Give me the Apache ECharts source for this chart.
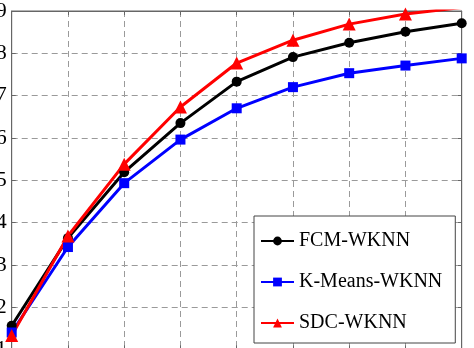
<!DOCTYPE html>
<html>
<head>
<meta charset="utf-8">
<script src="https://cdn.jsdelivr.net/npm/echarts@6/dist/echarts.min.js"></script>
<style>
  html, body { margin: 0; padding: 0; background: #fff; }
  #chart { width: 474px; height: 348px; }
</style>
</head>
<body>
<div id="chart"></div>
<script>
// Sample positions along the x axis
var categories = ['1', '2', '3', '4', '5', '6', '7', '8', '9'];
// Accuracy curves for each method
var fcmWknn = [1.56, 3.63, 5.19, 6.35, 7.33, 7.91, 8.25, 8.51, 8.71];
var kmeansWknn = [1.40, 3.42, 4.93, 5.96, 6.70, 7.20, 7.53, 7.71, 7.88];
var sdcWknn = [1.33, 3.68, 5.38, 6.73, 7.77, 8.31, 8.69, 8.93, 9.08];
var yTicks = { min: 1, max: 9, step: 1 };

var serif = "'Liberation Serif', 'Times New Roman', serif";
var frameColor = '#666';
var gridDash = { color: '#9a9a9a', width: 1, type: [6, 4] };

function lineSeries(name, data, color, symbol, size) {
  return {
    name: name,
    type: 'line',
    data: data,
    xAxisIndex: 0,
    yAxisIndex: 0,
    symbol: symbol,
    symbolSize: size,
    clip: true,
    lineStyle: { color: color, width: 3 },
    itemStyle: { color: color, borderWidth: 0 },
    emphasis: { disabled: true },
    z: 3
  };
}

var chart = echarts.init(document.getElementById('chart'), null, { renderer: 'canvas' });
chart.setOption({
  animation: false,
  backgroundColor: '#fff',
  grid: {
    left: 11.7, top: 11, width: 450, height: 338.4,
    outerBoundsMode: 'none', containLabel: false,
    show: true, borderColor: frameColor, borderWidth: 1, backgroundColor: 'transparent'
  },
  xAxis: [
    {
      type: 'category', data: categories, boundaryGap: false, position: 'bottom',
      axisLine: { show: true, lineStyle: { color: frameColor } },
      axisTick: { show: true, inside: true, length: 4, lineStyle: { color: frameColor } },
      axisLabel: { show: true, fontFamily: serif, fontSize: 22, color: '#000' },
      splitLine: { show: true, lineStyle: gridDash }
    },
    {
      type: 'category', data: categories, boundaryGap: false, position: 'top',
      axisLine: { show: true, lineStyle: { color: frameColor } },
      axisTick: { show: true, inside: true, length: 4, lineStyle: { color: frameColor } },
      axisLabel: { show: false },
      splitLine: { show: false }
    }
  ],
  yAxis: [
    {
      type: 'value', min: yTicks.min, max: yTicks.max, interval: yTicks.step, position: 'left',
      axisLine: { show: true, lineStyle: { color: frameColor } },
      axisTick: { show: true, inside: true, length: 4, lineStyle: { color: frameColor } },
      axisLabel: { show: true, fontFamily: serif, fontSize: 22, color: '#000', margin: 5 },
      splitLine: { show: true, lineStyle: gridDash }
    },
    {
      type: 'value', min: yTicks.min, max: yTicks.max, interval: yTicks.step, position: 'right',
      axisLine: { show: true, lineStyle: { color: frameColor } },
      axisTick: { show: true, inside: true, length: 4, lineStyle: { color: frameColor } },
      axisLabel: { show: false },
      splitLine: { show: false }
    }
  ],
  legend: {
    orient: 'vertical',
    left: 254, top: 216,
    padding: [15, 13, 10, 6],
    itemGap: 21,
    itemWidth: 33,
    itemHeight: 11,
    backgroundColor: '#fff',
    borderColor: '#444',
    borderWidth: 1,
    textStyle: { fontFamily: serif, fontSize: 20, color: '#000', lineHeight: 20 },
    data: ['FCM-WKNN', 'K-Means-WKNN', 'SDC-WKNN']
  },
  series: [
    lineSeries('FCM-WKNN', fcmWknn, '#000000', 'circle', 10),
    lineSeries('K-Means-WKNN', kmeansWknn, '#0000ff', 'rect', 10),
    lineSeries('SDC-WKNN', sdcWknn, '#ff0000', 'triangle', 13)
  ]
});
</script>
</body>
</html>
